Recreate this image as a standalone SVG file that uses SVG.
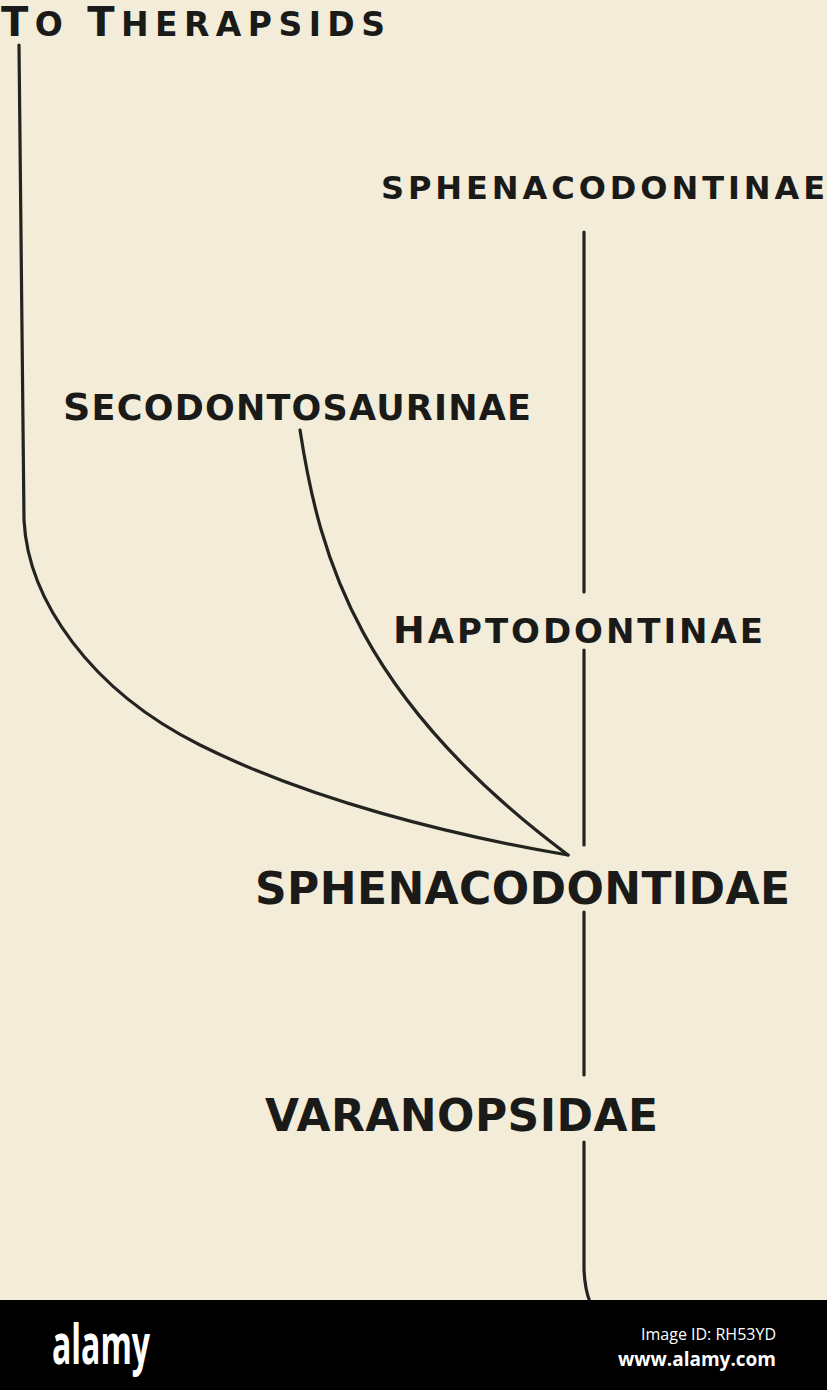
<svg xmlns="http://www.w3.org/2000/svg" width="827" height="1390" viewBox="0 0 827 1390">
<style>
.lbl{font-family:"DejaVu Sans","Liberation Sans",Arial,sans-serif;font-weight:bold;fill:#1a1a18}
.ln{fill:none;stroke:#232320;stroke-width:3.2;stroke-linecap:round}
.wm{font-family:"Open Sans","Liberation Sans",sans-serif;fill:#ffffff}
</style>
<rect x="0" y="0" width="827" height="1390" fill="#f2ecd9"/>
<g id="connectors">
<path class="ln" d="M19,45 L24,520 C28,600 90,690 200,745 S450,835 568,855"/>
<path class="ln" d="M300,430 C320,560 360,700 568,855"/>
<path class="ln" d="M584,232 L584,592"/>
<path class="ln" d="M584,650 L584,845"/>
<path class="ln" d="M584,912 L584,1075"/>
<path class="ln" d="M584,1142 L584,1270 Q585,1290 590,1302"/>
</g>
<g id="to-therapsids">
<text class="lbl" x="1" y="36" textLength="384" lengthAdjust="spacing"><tspan font-size="40">T</tspan><tspan font-size="33">O </tspan><tspan font-size="40">T</tspan><tspan font-size="33">HERAPSIDS</tspan></text>
</g>
<g id="sphenacodontinae">
<text class="lbl" x="381" y="199" font-size="32" textLength="444" lengthAdjust="spacing">SPHENACODONTINAE</text>
</g>
<g id="secodontosaurinae">
<text class="lbl" x="63" y="420" textLength="468" lengthAdjust="spacing"><tspan font-size="38">S</tspan><tspan font-size="35">ECODONTOSAURINAE</tspan></text>
</g>
<g id="haptodontinae">
<text class="lbl" x="393" y="643" textLength="370" lengthAdjust="spacing"><tspan font-size="38">H</tspan><tspan font-size="34">APTODONTINAE</tspan></text>
</g>
<g id="sphenacodontidae">
<text class="lbl" x="255" y="904" textLength="535" lengthAdjust="spacing" font-size="44">SPHENACODONTIDAE</text>
</g>
<g id="varanopsidae">
<text class="lbl" x="265" y="1131" textLength="393" lengthAdjust="spacing" font-size="44">VARANOPSIDAE</text>
</g>
<g id="footer">
<rect x="0" y="1300" width="827" height="90" fill="#000000"/>
<text class="wm" x="52" y="1364" font-size="56" font-weight="bold" textLength="98" lengthAdjust="spacingAndGlyphs">alamy</text>
<text class="wm" x="776" y="1340" font-size="16" text-anchor="end">Image ID: RH53YD</text>
<text class="wm" x="776" y="1366" font-size="19" font-weight="bold" text-anchor="end">www.alamy.com</text>
</g>
</svg>
